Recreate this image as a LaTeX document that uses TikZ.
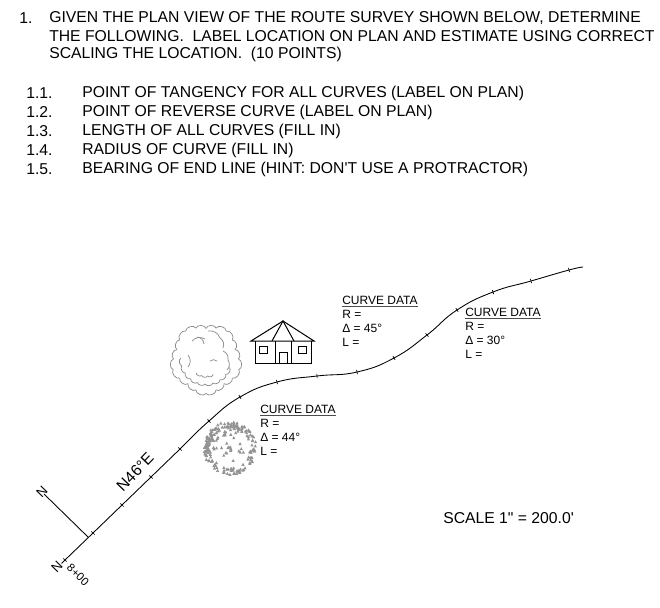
\documentclass[tikz,border=0pt]{standalone}
\usepackage{fontspec}
\newfontfamily\surveyfont{Liberation Sans}
\tikzset{
  surveytext/.style={anchor=west,inner sep=0pt,font=\surveyfont\fontsize{11.8}{14}\selectfont},
  datatext/.style={anchor=west,inner sep=0pt,font=\surveyfont\fontsize{9}{11}\selectfont},
  routeline/.style={line width=0.65pt,black},
  tickline/.style={line width=0.5pt,black},
  treeline/.style={line width=0.55pt,gray!90},
  houseline/.style={line width=0.75pt,black}
}
\newcommand{\curvedata}[4]{%
  \node[datatext] (#1head) at (#2,#3) {CURVE DATA};
  \draw[line width=0.9pt,black!70] ([yshift=-1.6pt]#1head.south west) -- ([yshift=-1.6pt]#1head.south east);
  \node[datatext] (#1r) at (#2,#3+14.5) {R =};
  \node[datatext] (#1d) at (#2,#3+28) {Δ = #4};
  \node[datatext] (#1l) at (#2,#3+42) {L =};
}
\begin{document}
\begin{tikzpicture}[x=0.75pt,y=-0.75pt]
  \useasboundingbox (0,0) rectangle (660,607);
  % question text
  \node[surveytext] (num) at (19,18.5) {1.};
  \node[surveytext] (line1) at (49,18.5) {GIVEN THE PLAN VIEW OF THE ROUTE SURVEY SHOWN BELOW, DETERMINE};
  \node[surveytext] (line2) at (49,36) {THE FOLLOWING.\ \ LABEL LOCATION ON PLAN AND ESTIMATE USING CORRECT};
  \node[surveytext] (line3) at (49,54) {SCALING THE LOCATION.\ \ (10 POINTS)};
  \foreach \n/\y/\t in {1/93/POINT OF TANGENCY FOR ALL CURVES (LABEL ON PLAN),
                        2/112/POINT OF REVERSE CURVE (LABEL ON PLAN),
                        3/131/LENGTH OF ALL CURVES (FILL IN),
                        4/150/RADIUS OF CURVE (FILL IN),
                        5/169/BEARING OF END LINE (HINT: DON'T USE A PROTRACTOR)} {
    \node[surveytext] (sub\n) at (26,\y) {1.\n.};
    \node[surveytext] (item\n) at (82,\y) {\t};
  }
  % route with stations
  \coordinate (start) at (63,562);
  \coordinate (finish) at (583,267);
  \coordinate (nfoot) at (88,537);
  \coordinate (ntip) at (44,494);
  \foreach \i/\x/\y/\ang in {0/65/560/46,1/93/533/46,2/122/505/46,3/151/477/46,4/180/449/46,
      5/209/421/43,6/240/397/30,7/277/382/15,8/317/376/5,9/357/372/12,10/394/358/28,
      11/427/335/40,12/457/310/33,13/493/292/18,14/531/281/16,15/569/270/15} {
    \coordinate (s\i) at (\x,\y);
    \draw[tickline] ([shift={(90-\ang:2.2)}]s\i) -- ([shift={(270-\ang:2.2)}]s\i);
  }
  \draw[routeline] plot[smooth,tension=0.8] coordinates {(start) (s0) (s1) (s2) (s3) (s4) (s5) (s6) (s7) (s8) (s9) (s10) (s11) (s12) (s13) (s14) (s15) (finish)};
  \draw[routeline] (nfoot) -- (ntip);
  \node[rotate=46,inner sep=0pt,font=\surveyfont\fontsize{10}{12}\selectfont] (ntop) at (42,492) {N};
  \node[rotate=46,inner sep=0pt,font=\surveyfont\fontsize{10}{12}\selectfont] (nlow) at (57,567) {N};
  \node[rotate=-44,inner sep=0pt,font=\surveyfont\fontsize{8.5}{10}\selectfont] (sta) at (78,575) {8+00};
  \node[rotate=46,inner sep=0pt,font=\surveyfont\fontsize{11.8}{14}\selectfont] (bearing) at (135,472) {N46°E};
  % curve tables
  \curvedata{one}{260}{409}{44°}
  \curvedata{two}{342}{300}{45°}
  \curvedata{three}{465}{312}{30°}
  \node[surveytext] (scale) at (443,518) {SCALE 1" = 200.0'};
  % house
  \draw[houseline] (251,341) -- (283,321) -- (314,341) -- cycle;
  \draw[houseline] (272,341) -- (283,321) -- (294,341);
  \draw[houseline] (255,341) -- (255,363) -- (311,363) -- (311,341);
  \draw[houseline] (275,341) -- (275,363) (291,341) -- (291,363);
  \draw[houseline] (279,363) -- (279,352) -- (287,352) -- (287,363);
  \draw[houseline] (259,346) rectangle (267,353);
  \draw[houseline] (298,346) rectangle (306,353);
  % open tree
  \coordinate (treea) at (206,359);
  \foreach \a [evaluate=\a as \ra using {32.5+2*sin(5*\a)},
               evaluate=\a as \rb using {32.5+2*sin(5*(\a+18))}] in {0,18,...,342} {
    \draw[treeline] ([shift={(\a:\ra)}]treea) to[bend left=75] ([shift={(\a+18:\rb)}]treea);
  }
  \foreach \a in {20,38,...,175} {
    \draw[treeline] ([shift={(\a:25)}]treea) to[bend left=70] ([shift={(\a+18:25)}]treea);
  }
  \foreach \a in {65,85,105} {
    \draw[treeline] ([shift={(\a:17)}]treea) to[bend left=70] ([shift={(\a+20:17)}]treea);
  }
  \foreach \x/\y/\u/\v in {192/341/205/339,208/331/220/338,220/338/223/348,223/351/228/360,
      228/360/227/370,188/355/188/367,210/361/217/361,197/337/204/344} {
    \draw[treeline] (\x,\y) to[bend left=40] (\u,\v);
  }
  % dense tree
  \coordinate (treeb) at (230,448);
  \pgfmathsetseed{46}
  \foreach \i in {1,...,150} {
    \pgfmathsetmacro{\ang}{rnd*360}
    \pgfmathsetmacro{\rad}{20+rnd*6.5}
    \fill[gray!85] ([shift={(\ang:\rad)}]treeb) ++(-1.6,1.4) -- ++(3.2,0) -- ++(-1.6,-3) -- cycle;
  }
  \foreach \i in {1,...,40} {
    \pgfmathsetmacro{\ang}{170+rnd*130}
    \pgfmathsetmacro{\rad}{15+rnd*11}
    \fill[gray!85] ([shift={(\ang:\rad)}]treeb) ++(-1.6,1.4) -- ++(3.2,0) -- ++(-1.6,-3) -- cycle;
  }
  \foreach \i in {1,...,22} {
    \pgfmathsetmacro{\ang}{rnd*360}
    \pgfmathsetmacro{\rad}{rnd*16}
    \fill[gray!85] ([shift={(\ang:\rad)}]treeb) ++(-1.6,1.4) -- ++(3.2,0) -- ++(-1.6,-3) -- cycle;
  }
\end{tikzpicture}
\end{document}
